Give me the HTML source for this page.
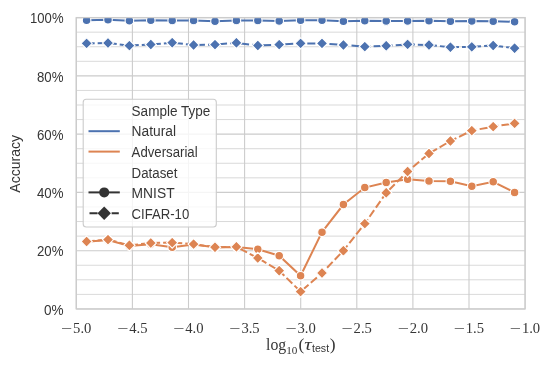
<!DOCTYPE html>
<html><head><meta charset="utf-8"><title>Accuracy plot</title>
<style>html,body{margin:0;padding:0;background:#fff}svg{display:block}text{fill:#363636}.sans{font-family:"Liberation Sans",sans-serif}.serif{font-family:"Liberation Serif",serif}</style></head><body>
<svg width="550" height="366" viewBox="0 0 550 366">
<rect width="550" height="366" fill="#fff"/>
<defs><clipPath id="ax"><rect x="76.30" y="17.60" width="448.80" height="291.35"/></clipPath></defs>
<path d="M76.30 294.38H525.10M76.30 279.81H525.10M76.30 265.25H525.10M76.30 236.11H525.10M76.30 221.54H525.10M76.30 206.98H525.10M76.30 177.84H525.10M76.30 163.28H525.10M76.30 148.71H525.10M76.30 119.57H525.10M76.30 105.00H525.10M76.30 90.44H525.10M76.30 61.30H525.10M76.30 46.74H525.10M76.30 32.17H525.10" stroke="#cccccc" stroke-width="0.75" fill="none"/>
<path d="M76.30 308.95H525.10M76.30 250.68H525.10M76.30 192.41H525.10M76.30 134.14H525.10M76.30 75.87H525.10M76.30 17.60H525.10M76.30 17.60V308.95M132.40 17.60V308.95M188.50 17.60V308.95M244.60 17.60V308.95M300.70 17.60V308.95M356.80 17.60V308.95M412.90 17.60V308.95M469.00 17.60V308.95M525.10 17.60V308.95" stroke="#cccccc" stroke-width="1.1" fill="none"/>
<g clip-path="url(#ax)">
<polyline points="86.60,20.30 108.00,19.70 129.40,20.80 150.80,20.30 172.20,20.40 193.60,20.40 215.00,21.20 236.40,20.40 257.80,20.40 279.20,20.90 300.60,20.30 322.00,20.30 343.40,21.30 364.80,20.70 386.20,21.10 407.60,20.90 429.00,20.70 450.40,21.30 471.80,21.00 493.20,21.20 514.60,21.80" fill="none" stroke="#4c72b0" stroke-width="2.00"/>
<circle cx="86.6" cy="20.3" r="4.3" fill="#4c72b0" stroke="#fff" stroke-width="1.1"/>
<circle cx="108.0" cy="19.7" r="4.3" fill="#4c72b0" stroke="#fff" stroke-width="1.1"/>
<circle cx="129.4" cy="20.8" r="4.3" fill="#4c72b0" stroke="#fff" stroke-width="1.1"/>
<circle cx="150.8" cy="20.3" r="4.3" fill="#4c72b0" stroke="#fff" stroke-width="1.1"/>
<circle cx="172.2" cy="20.4" r="4.3" fill="#4c72b0" stroke="#fff" stroke-width="1.1"/>
<circle cx="193.6" cy="20.4" r="4.3" fill="#4c72b0" stroke="#fff" stroke-width="1.1"/>
<circle cx="215.0" cy="21.2" r="4.3" fill="#4c72b0" stroke="#fff" stroke-width="1.1"/>
<circle cx="236.4" cy="20.4" r="4.3" fill="#4c72b0" stroke="#fff" stroke-width="1.1"/>
<circle cx="257.8" cy="20.4" r="4.3" fill="#4c72b0" stroke="#fff" stroke-width="1.1"/>
<circle cx="279.2" cy="20.9" r="4.3" fill="#4c72b0" stroke="#fff" stroke-width="1.1"/>
<circle cx="300.6" cy="20.3" r="4.3" fill="#4c72b0" stroke="#fff" stroke-width="1.1"/>
<circle cx="322.0" cy="20.3" r="4.3" fill="#4c72b0" stroke="#fff" stroke-width="1.1"/>
<circle cx="343.4" cy="21.3" r="4.3" fill="#4c72b0" stroke="#fff" stroke-width="1.1"/>
<circle cx="364.8" cy="20.7" r="4.3" fill="#4c72b0" stroke="#fff" stroke-width="1.1"/>
<circle cx="386.2" cy="21.1" r="4.3" fill="#4c72b0" stroke="#fff" stroke-width="1.1"/>
<circle cx="407.6" cy="20.9" r="4.3" fill="#4c72b0" stroke="#fff" stroke-width="1.1"/>
<circle cx="429.0" cy="20.7" r="4.3" fill="#4c72b0" stroke="#fff" stroke-width="1.1"/>
<circle cx="450.4" cy="21.3" r="4.3" fill="#4c72b0" stroke="#fff" stroke-width="1.1"/>
<circle cx="471.8" cy="21.0" r="4.3" fill="#4c72b0" stroke="#fff" stroke-width="1.1"/>
<circle cx="493.2" cy="21.2" r="4.3" fill="#4c72b0" stroke="#fff" stroke-width="1.1"/>
<circle cx="514.6" cy="21.8" r="4.3" fill="#4c72b0" stroke="#fff" stroke-width="1.1"/>
<polyline points="86.60,241.75 108.00,240.05 129.40,246.05 150.80,244.15 172.20,247.25 193.60,244.55 215.00,247.25 236.40,247.05 257.80,249.30 279.20,255.70 300.60,275.80 322.00,232.15 343.40,204.55 364.80,187.55 386.20,182.45 407.60,179.35 429.00,181.05 450.40,181.25 471.80,186.25 493.20,181.85 514.60,192.40" fill="none" stroke="#dd8452" stroke-width="2.00"/>
<circle cx="86.6" cy="241.8" r="4.3" fill="#dd8452" stroke="#fff" stroke-width="1.1"/>
<circle cx="108.0" cy="240.1" r="4.3" fill="#dd8452" stroke="#fff" stroke-width="1.1"/>
<circle cx="129.4" cy="246.1" r="4.3" fill="#dd8452" stroke="#fff" stroke-width="1.1"/>
<circle cx="150.8" cy="244.2" r="4.3" fill="#dd8452" stroke="#fff" stroke-width="1.1"/>
<circle cx="172.2" cy="247.2" r="4.3" fill="#dd8452" stroke="#fff" stroke-width="1.1"/>
<circle cx="193.6" cy="244.6" r="4.3" fill="#dd8452" stroke="#fff" stroke-width="1.1"/>
<circle cx="215.0" cy="247.2" r="4.3" fill="#dd8452" stroke="#fff" stroke-width="1.1"/>
<circle cx="236.4" cy="247.1" r="4.3" fill="#dd8452" stroke="#fff" stroke-width="1.1"/>
<circle cx="257.8" cy="249.3" r="4.3" fill="#dd8452" stroke="#fff" stroke-width="1.1"/>
<circle cx="279.2" cy="255.7" r="4.3" fill="#dd8452" stroke="#fff" stroke-width="1.1"/>
<circle cx="300.6" cy="275.8" r="4.3" fill="#dd8452" stroke="#fff" stroke-width="1.1"/>
<circle cx="322.0" cy="232.2" r="4.3" fill="#dd8452" stroke="#fff" stroke-width="1.1"/>
<circle cx="343.4" cy="204.6" r="4.3" fill="#dd8452" stroke="#fff" stroke-width="1.1"/>
<circle cx="364.8" cy="187.6" r="4.3" fill="#dd8452" stroke="#fff" stroke-width="1.1"/>
<circle cx="386.2" cy="182.4" r="4.3" fill="#dd8452" stroke="#fff" stroke-width="1.1"/>
<circle cx="407.6" cy="179.3" r="4.3" fill="#dd8452" stroke="#fff" stroke-width="1.1"/>
<circle cx="429.0" cy="181.1" r="4.3" fill="#dd8452" stroke="#fff" stroke-width="1.1"/>
<circle cx="450.4" cy="181.2" r="4.3" fill="#dd8452" stroke="#fff" stroke-width="1.1"/>
<circle cx="471.8" cy="186.2" r="4.3" fill="#dd8452" stroke="#fff" stroke-width="1.1"/>
<circle cx="493.2" cy="181.8" r="4.3" fill="#dd8452" stroke="#fff" stroke-width="1.1"/>
<circle cx="514.6" cy="192.4" r="4.3" fill="#dd8452" stroke="#fff" stroke-width="1.1"/>
<polyline points="86.60,43.40 108.00,43.00 129.40,45.60 150.80,44.50 172.20,42.70 193.60,45.00 215.00,44.60 236.40,42.80 257.80,45.50 279.20,44.60 300.60,43.40 322.00,43.40 343.40,45.00 364.80,46.60 386.20,45.80 407.60,44.40 429.00,45.00 450.40,47.20 471.80,46.90 493.20,45.50 514.60,48.20" fill="none" stroke="#4c72b0" stroke-width="2.00" stroke-dasharray="8.05 3.02" stroke-dashoffset="0.00"/>
<path d="M86.6 37.8L92.2 43.4L86.6 49.0L81.0 43.4Z" fill="#4c72b0" stroke="#fff" stroke-width="1.1"/>
<path d="M108.0 37.4L113.6 43.0L108.0 48.6L102.4 43.0Z" fill="#4c72b0" stroke="#fff" stroke-width="1.1"/>
<path d="M129.4 40.0L135.0 45.6L129.4 51.2L123.8 45.6Z" fill="#4c72b0" stroke="#fff" stroke-width="1.1"/>
<path d="M150.8 38.9L156.4 44.5L150.8 50.1L145.2 44.5Z" fill="#4c72b0" stroke="#fff" stroke-width="1.1"/>
<path d="M172.2 37.1L177.8 42.7L172.2 48.3L166.6 42.7Z" fill="#4c72b0" stroke="#fff" stroke-width="1.1"/>
<path d="M193.6 39.4L199.2 45.0L193.6 50.6L188.0 45.0Z" fill="#4c72b0" stroke="#fff" stroke-width="1.1"/>
<path d="M215.0 39.0L220.6 44.6L215.0 50.2L209.4 44.6Z" fill="#4c72b0" stroke="#fff" stroke-width="1.1"/>
<path d="M236.4 37.2L242.0 42.8L236.4 48.4L230.8 42.8Z" fill="#4c72b0" stroke="#fff" stroke-width="1.1"/>
<path d="M257.8 39.9L263.4 45.5L257.8 51.1L252.2 45.5Z" fill="#4c72b0" stroke="#fff" stroke-width="1.1"/>
<path d="M279.2 39.0L284.8 44.6L279.2 50.2L273.6 44.6Z" fill="#4c72b0" stroke="#fff" stroke-width="1.1"/>
<path d="M300.6 37.8L306.2 43.4L300.6 49.0L295.0 43.4Z" fill="#4c72b0" stroke="#fff" stroke-width="1.1"/>
<path d="M322.0 37.8L327.6 43.4L322.0 49.0L316.4 43.4Z" fill="#4c72b0" stroke="#fff" stroke-width="1.1"/>
<path d="M343.4 39.4L349.0 45.0L343.4 50.6L337.8 45.0Z" fill="#4c72b0" stroke="#fff" stroke-width="1.1"/>
<path d="M364.8 41.0L370.4 46.6L364.8 52.2L359.2 46.6Z" fill="#4c72b0" stroke="#fff" stroke-width="1.1"/>
<path d="M386.2 40.2L391.8 45.8L386.2 51.4L380.6 45.8Z" fill="#4c72b0" stroke="#fff" stroke-width="1.1"/>
<path d="M407.6 38.8L413.2 44.4L407.6 50.0L402.0 44.4Z" fill="#4c72b0" stroke="#fff" stroke-width="1.1"/>
<path d="M429.0 39.4L434.6 45.0L429.0 50.6L423.4 45.0Z" fill="#4c72b0" stroke="#fff" stroke-width="1.1"/>
<path d="M450.4 41.6L456.0 47.2L450.4 52.8L444.8 47.2Z" fill="#4c72b0" stroke="#fff" stroke-width="1.1"/>
<path d="M471.8 41.3L477.4 46.9L471.8 52.5L466.2 46.9Z" fill="#4c72b0" stroke="#fff" stroke-width="1.1"/>
<path d="M493.2 39.9L498.8 45.5L493.2 51.1L487.6 45.5Z" fill="#4c72b0" stroke="#fff" stroke-width="1.1"/>
<path d="M514.6 42.6L520.2 48.2L514.6 53.8L509.0 48.2Z" fill="#4c72b0" stroke="#fff" stroke-width="1.1"/>
<polyline points="86.60,241.50 108.00,239.60 129.40,245.30 150.80,243.00 172.20,242.60 193.60,244.10 215.00,247.20 236.40,246.80 257.80,258.00 279.20,270.70 300.60,291.60 322.00,273.00 343.40,250.70 364.80,223.60 386.20,192.80 407.60,171.50 429.00,153.50 450.40,141.00 471.80,130.60 493.20,126.60 514.60,123.40" fill="none" stroke="#dd8452" stroke-width="2.00" stroke-dasharray="8.05 3.02" stroke-dashoffset="0.00"/>
<path d="M86.6 235.9L92.2 241.5L86.6 247.1L81.0 241.5Z" fill="#dd8452" stroke="#fff" stroke-width="1.1"/>
<path d="M108.0 234.0L113.6 239.6L108.0 245.2L102.4 239.6Z" fill="#dd8452" stroke="#fff" stroke-width="1.1"/>
<path d="M129.4 239.7L135.0 245.3L129.4 250.9L123.8 245.3Z" fill="#dd8452" stroke="#fff" stroke-width="1.1"/>
<path d="M150.8 237.4L156.4 243.0L150.8 248.6L145.2 243.0Z" fill="#dd8452" stroke="#fff" stroke-width="1.1"/>
<path d="M172.2 237.0L177.8 242.6L172.2 248.2L166.6 242.6Z" fill="#dd8452" stroke="#fff" stroke-width="1.1"/>
<path d="M193.6 238.5L199.2 244.1L193.6 249.7L188.0 244.1Z" fill="#dd8452" stroke="#fff" stroke-width="1.1"/>
<path d="M215.0 241.6L220.6 247.2L215.0 252.8L209.4 247.2Z" fill="#dd8452" stroke="#fff" stroke-width="1.1"/>
<path d="M236.4 241.2L242.0 246.8L236.4 252.4L230.8 246.8Z" fill="#dd8452" stroke="#fff" stroke-width="1.1"/>
<path d="M257.8 252.4L263.4 258.0L257.8 263.6L252.2 258.0Z" fill="#dd8452" stroke="#fff" stroke-width="1.1"/>
<path d="M279.2 265.1L284.8 270.7L279.2 276.3L273.6 270.7Z" fill="#dd8452" stroke="#fff" stroke-width="1.1"/>
<path d="M300.6 286.0L306.2 291.6L300.6 297.2L295.0 291.6Z" fill="#dd8452" stroke="#fff" stroke-width="1.1"/>
<path d="M322.0 267.4L327.6 273.0L322.0 278.6L316.4 273.0Z" fill="#dd8452" stroke="#fff" stroke-width="1.1"/>
<path d="M343.4 245.1L349.0 250.7L343.4 256.3L337.8 250.7Z" fill="#dd8452" stroke="#fff" stroke-width="1.1"/>
<path d="M364.8 218.0L370.4 223.6L364.8 229.2L359.2 223.6Z" fill="#dd8452" stroke="#fff" stroke-width="1.1"/>
<path d="M386.2 187.2L391.8 192.8L386.2 198.4L380.6 192.8Z" fill="#dd8452" stroke="#fff" stroke-width="1.1"/>
<path d="M407.6 165.9L413.2 171.5L407.6 177.1L402.0 171.5Z" fill="#dd8452" stroke="#fff" stroke-width="1.1"/>
<path d="M429.0 147.9L434.6 153.5L429.0 159.1L423.4 153.5Z" fill="#dd8452" stroke="#fff" stroke-width="1.1"/>
<path d="M450.4 135.4L456.0 141.0L450.4 146.6L444.8 141.0Z" fill="#dd8452" stroke="#fff" stroke-width="1.1"/>
<path d="M471.8 125.0L477.4 130.6L471.8 136.2L466.2 130.6Z" fill="#dd8452" stroke="#fff" stroke-width="1.1"/>
<path d="M493.2 121.0L498.8 126.6L493.2 132.2L487.6 126.6Z" fill="#dd8452" stroke="#fff" stroke-width="1.1"/>
<path d="M514.6 117.8L520.2 123.4L514.6 129.0L509.0 123.4Z" fill="#dd8452" stroke="#fff" stroke-width="1.1"/>
</g>
<rect x="76.30" y="17.60" width="448.80" height="291.35" fill="none" stroke="#cccccc" stroke-width="1.3"/>
<text class="sans" x="43.9" y="314.6" font-size="14.1" textLength="19.6" lengthAdjust="spacingAndGlyphs">0%</text>
<text class="sans" x="37.0" y="256.3" font-size="14.1" textLength="26.5" lengthAdjust="spacingAndGlyphs">20%</text>
<text class="sans" x="37.0" y="198.0" font-size="14.1" textLength="26.5" lengthAdjust="spacingAndGlyphs">40%</text>
<text class="sans" x="37.0" y="139.7" font-size="14.1" textLength="26.5" lengthAdjust="spacingAndGlyphs">60%</text>
<text class="sans" x="37.0" y="81.5" font-size="14.1" textLength="26.5" lengthAdjust="spacingAndGlyphs">80%</text>
<text class="sans" x="30.1" y="23.2" font-size="14.1" textLength="33.4" lengthAdjust="spacingAndGlyphs">100%</text>
<text class="serif" font-size="13.6" transform="translate(61.03 332.5) scale(1.46 1)">−</text>
<text class="serif" x="73.10" y="332.5" font-size="13.6" textLength="18.3" lengthAdjust="spacingAndGlyphs">5.0</text>
<text class="serif" font-size="13.6" transform="translate(117.13 332.5) scale(1.46 1)">−</text>
<text class="serif" x="129.20" y="332.5" font-size="13.6" textLength="18.3" lengthAdjust="spacingAndGlyphs">4.5</text>
<text class="serif" font-size="13.6" transform="translate(173.23 332.5) scale(1.46 1)">−</text>
<text class="serif" x="185.30" y="332.5" font-size="13.6" textLength="18.3" lengthAdjust="spacingAndGlyphs">4.0</text>
<text class="serif" font-size="13.6" transform="translate(229.33 332.5) scale(1.46 1)">−</text>
<text class="serif" x="241.40" y="332.5" font-size="13.6" textLength="18.3" lengthAdjust="spacingAndGlyphs">3.5</text>
<text class="serif" font-size="13.6" transform="translate(285.43 332.5) scale(1.46 1)">−</text>
<text class="serif" x="297.50" y="332.5" font-size="13.6" textLength="18.3" lengthAdjust="spacingAndGlyphs">3.0</text>
<text class="serif" font-size="13.6" transform="translate(341.53 332.5) scale(1.46 1)">−</text>
<text class="serif" x="353.60" y="332.5" font-size="13.6" textLength="18.3" lengthAdjust="spacingAndGlyphs">2.5</text>
<text class="serif" font-size="13.6" transform="translate(397.63 332.5) scale(1.46 1)">−</text>
<text class="serif" x="409.70" y="332.5" font-size="13.6" textLength="18.3" lengthAdjust="spacingAndGlyphs">2.0</text>
<text class="serif" font-size="13.6" transform="translate(453.73 332.5) scale(1.46 1)">−</text>
<text class="serif" x="465.80" y="332.5" font-size="13.6" textLength="18.3" lengthAdjust="spacingAndGlyphs">1.5</text>
<text class="serif" font-size="13.6" transform="translate(509.83 332.5) scale(1.46 1)">−</text>
<text class="serif" x="521.90" y="332.5" font-size="13.6" textLength="18.3" lengthAdjust="spacingAndGlyphs">1.0</text>
<text class="sans" font-size="14.6" text-anchor="middle" textLength="57.7" lengthAdjust="spacingAndGlyphs" transform="translate(20.2 163.8) rotate(-90)">Accuracy</text>
<text class="serif" x="266.0" y="349.6" font-size="16.6" textLength="20.2" lengthAdjust="spacingAndGlyphs">log</text>
<text class="serif" x="286.2" y="353.5" font-size="10.8" textLength="11.2" lengthAdjust="spacingAndGlyphs">10</text>
<text class="serif" x="298.5" y="349.9" font-size="17.5">(</text>
<text class="serif" font-size="16" font-style="italic" transform="translate(304.3 349.6) scale(1.3 1)">τ</text>
<text class="sans" x="312.0" y="352.1" font-size="10.6">test</text>
<text class="serif" x="329.8" y="349.9" font-size="17.5">)</text>
<rect x="83.2" y="99.2" width="133.1" height="127.8" rx="3" ry="3" fill="#fff" fill-opacity="0.8" stroke="#cccccc" stroke-width="1.1"/>
<text class="sans" x="131.6" y="115.6" font-size="14" textLength="78.7" lengthAdjust="spacingAndGlyphs">Sample Type</text>
<text class="sans" x="131.6" y="136.3" font-size="14" textLength="44.4" lengthAdjust="spacingAndGlyphs">Natural</text>
<text class="sans" x="131.6" y="156.7" font-size="14" textLength="66.0" lengthAdjust="spacingAndGlyphs">Adversarial</text>
<text class="sans" x="131.6" y="177.6" font-size="14" textLength="45.8" lengthAdjust="spacingAndGlyphs">Dataset</text>
<text class="sans" x="131.6" y="197.8" font-size="14" textLength="43.0" lengthAdjust="spacingAndGlyphs">MNIST</text>
<text class="sans" x="131.6" y="218.6" font-size="14" textLength="57.6" lengthAdjust="spacingAndGlyphs">CIFAR-10</text>
<path d="M88.5 131.2H119.8" stroke="#4c72b0" stroke-width="2.00"/>
<path d="M88.5 151.6H119.8" stroke="#dd8452" stroke-width="2.00"/>
<path d="M88.5 192.4H119.8" stroke="#333333" stroke-width="2.00"/>
<circle cx="104.2" cy="192.4" r="5.0" fill="#333333"/>
<path d="M89.5 213.2H118.8" stroke="#333333" stroke-width="2.00" stroke-dasharray="8.05 3.02"/>
<path d="M104.2 206.5L110.9 213.2L104.2 219.9L97.5 213.2Z" fill="#333333"/>
</svg></body></html>
